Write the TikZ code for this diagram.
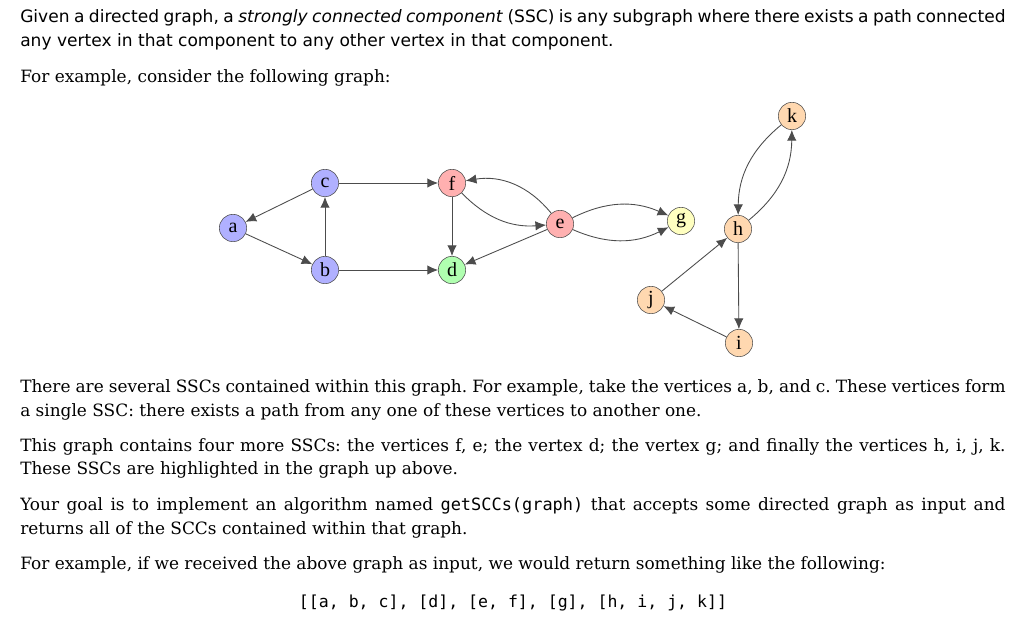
\documentclass[tikz,border=0pt]{standalone}
\usepackage{fontspec}
\setmainfont{DejaVu Serif}
\setmonofont{DejaVu Sans Mono}
\newfontfamily\nodefont{Liberation Serif}
\newfontfamily\topfont{DejaVu Sans}
\usetikzlibrary{arrows.meta}
\definecolor{cblue}{RGB}{176,176,255}
\definecolor{cred}{RGB}{255,176,176}
\definecolor{cgreen}{RGB}{176,255,176}
\definecolor{cyel}{RGB}{255,255,192}
\definecolor{corange}{RGB}{255,216,176}
\frenchspacing
\begin{document}
\begin{tikzpicture}[x=0.75pt,y=-0.75pt,
  vtx/.style={draw=black!70,circle,minimum size=20.5pt,inner sep=0pt,font=\nodefont\fontsize{15}{15}\selectfont},
  ed/.style={draw=black!70,line width=0.65pt,-{Latex[length=8pt,width=7pt]}},
  tl/.style={anchor=base west,inner sep=0pt,font=\fontsize{12.7}{15}\selectfont}]
\useasboundingbox (0,0) rectangle (1024,625);
\fill[white] (0,0) rectangle (1024,625);
\newcommand{\lw}{739pt}
\node[tl,font=\topfont\fontsize{12.8}{15}\selectfont] (t1) at (20,22) {\makebox[\lw][s]{Given a directed graph, a \textit{strongly connected component} (SSC) is any subgraph where there exists a path connected}};
\node[tl,font=\topfont\fontsize{12.8}{15}\selectfont] (t2) at (20,46) {any vertex in that component to any other vertex in that component.};
\node[tl] (t3) at (20,82) {For example, consider the following graph:};
\node[tl] (t4) at (20,392) {\makebox[\lw][s]{There are several SSCs contained within this graph. For example, take the vertices a, b, and c. These vertices form}};
\node[tl] (t5) at (20,416) {a single SSC: there exists a path from any one of these vertices to another one.};
\node[tl] (t6) at (20,451) {\makebox[\lw][s]{This graph contains four more SSCs: the vertices f, e; the vertex d; the vertex g; and finally the vertices h, i, j, k.}};
\node[tl] (t7) at (20,474) {These SSCs are highlighted in the graph up above.};
\node[tl] (t8) at (20,510) {\makebox[\lw][s]{Your goal is to implement an algorithm named \texttt{getSCCs(graph)} that accepts some directed graph as input and}};
\node[tl] (t9) at (20,534) {returns all of the SCCs contained within that graph.};
\node[tl] (t10) at (20,569) {For example, if we received the above graph as input, we would return something like the following:};
\node[anchor=base,inner sep=0pt,font=\ttfamily\fontsize{12.4}{15}\selectfont] (t11) at (513,607) {[[a, b, c], [d], [e, f], [g], [h, i, j, k]]};

\node[vtx,fill=cblue] (a) at (233,228) {a};
\node[vtx,fill=cblue] (c) at (325,183) {c};
\node[vtx,fill=cblue] (b) at (325,270) {b};
\node[vtx,fill=cred] (f) at (452,183) {f};
\node[vtx,fill=cgreen] (d) at (452,270) {d};
\node[vtx,fill=cred] (e) at (560,224) {e};
\node[vtx,fill=cyel] (g) at (681,221) {g};
\node[vtx,fill=corange] (h) at (738,229) {h};
\node[vtx,fill=corange] (k) at (792,116) {k};
\node[vtx,fill=corange] (j) at (651,300) {j};
\node[vtx,fill=corange] (i) at (739,343) {i};

\draw[ed] (c) -- (a);
\draw[ed] (a) -- (b);
\draw[ed] (b) -- (c);
\draw[ed] (c) -- (f);
\draw[ed] (b) -- (d);
\draw[ed] (f) -- (d);
\draw[ed] (e) -- (d);
\draw[ed] (f) to[bend right=25] (e);
\draw[ed] (e) to[bend right=30] (f);
\draw[ed] (e) to[bend left=25] (g);
\draw[ed] (e) to[bend right=25] (g);
\draw[ed] (k) to[bend right=25] (h);
\draw[ed] (h) to[bend right=25] (k);
\draw[ed] (h) -- (i);
\draw[ed] (i) -- (j);
\draw[ed] (j) -- (h);
\end{tikzpicture}
\end{document}
